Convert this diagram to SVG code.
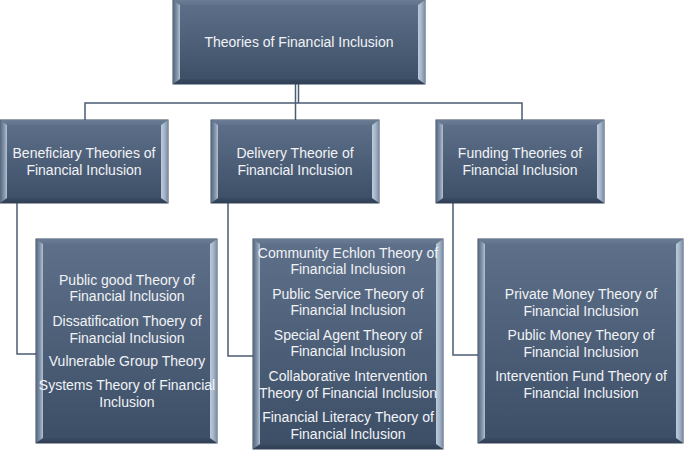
<svg xmlns="http://www.w3.org/2000/svg" width="685" height="450" viewBox="0 0 685 450">
<defs>
<linearGradient id="fillG" x1="0" y1="0" x2="0" y2="1">
<stop offset="0" stop-color="#5f718a"/>
<stop offset="1" stop-color="#3c4e66"/>
</linearGradient>
<linearGradient id="leftG" x1="0" y1="0" x2="1" y2="0">
<stop offset="0" stop-color="#55677e"/>
<stop offset="0.6" stop-color="#8596ab"/>
<stop offset="1" stop-color="#b3c2d3"/>
</linearGradient>
<linearGradient id="rightG" x1="0" y1="0" x2="1" y2="0">
<stop offset="0" stop-color="#bccbdc"/>
<stop offset="0.5" stop-color="#a4b5c8"/>
<stop offset="1" stop-color="#7a8ca3"/>
</linearGradient>
<linearGradient id="topG" x1="0" y1="0" x2="0" y2="1">
<stop offset="0" stop-color="#6b7d95"/>
<stop offset="1" stop-color="#61738c"/>
</linearGradient>
<linearGradient id="botG" x1="0" y1="0" x2="0" y2="1">
<stop offset="0" stop-color="#3a4b62"/>
<stop offset="1" stop-color="#2f3f54"/>
</linearGradient>
</defs>
<style>
.box{fill:url(#fillG);stroke:#34455a;stroke-width:1}
.bl{fill:url(#leftG)}
.br{fill:url(#rightG)}
.bt{fill:url(#topG)}
.bb{fill:url(#botG)}
.conn path{fill:none;stroke:#4a5c73;stroke-width:1.5}
text{font-family:"Liberation Sans",Arial,sans-serif;font-size:14px;fill:#f1f3f6;text-anchor:middle}
</style>
<g id="connectors" class="conn">
<path d="M85,120 V103 H522 V120"/>
<path d="M298.5,84 V103"/>
<path d="M295.5,84 V120"/>
<path d="M17,203 V354 H36"/>
<path d="M228,203 V356 H253"/>
<path d="M453,203 V355 H478"/>
</g>
<g id="root">
<rect class="box" x="173" y="0" width="252" height="84"/>
<polygon class="bt" points="173,0 425,0 418,5 180,5"/>
<polygon class="bb" points="173,84 425,84 418,79 180,79"/>
<polygon class="bl" points="173,0 180,5 180,79 173,84"/>
<polygon class="br" points="418,5 425,0 425,84 418,79"/>
<text x="299" y="47">Theories of Financial Inclusion</text>
</g>
<g id="beneficiary">
<rect class="box" x="0" y="120" width="168" height="83"/>
<polygon class="bt" points="0,120 168,120 161,125 7,125"/>
<polygon class="bb" points="0,203 168,203 161,198 7,198"/>
<polygon class="bl" points="0,120 7,125 7,198 0,203"/>
<polygon class="br" points="161,125 168,120 168,203 161,198"/>
<text x="84" y="158">Beneficiary Theories of</text>
<text x="84" y="175">Financial Inclusion</text>
</g>
<g id="delivery">
<rect class="box" x="211" y="120" width="168" height="83"/>
<polygon class="bt" points="211,120 379,120 372,125 218,125"/>
<polygon class="bb" points="211,203 379,203 372,198 218,198"/>
<polygon class="bl" points="211,120 218,125 218,198 211,203"/>
<polygon class="br" points="372,125 379,120 379,203 372,198"/>
<text x="295" y="158">Delivery Theorie of</text>
<text x="295" y="175">Financial Inclusion</text>
</g>
<g id="funding">
<rect class="box" x="436" y="120" width="168" height="83"/>
<polygon class="bt" points="436,120 604,120 597,125 443,125"/>
<polygon class="bb" points="436,203 604,203 597,198 443,198"/>
<polygon class="bl" points="436,120 443,125 443,198 436,203"/>
<polygon class="br" points="597,125 604,120 604,203 597,198"/>
<text x="520" y="158">Funding Theories of</text>
<text x="520" y="175">Financial Inclusion</text>
</g>
<g id="beneficiary-list">
<rect class="box" x="36" y="239" width="181" height="204"/>
<polygon class="bt" points="36,239 217,239 210,244 43,244"/>
<polygon class="bb" points="36,443 217,443 210,438 43,438"/>
<polygon class="bl" points="36,239 43,244 43,438 36,443"/>
<polygon class="br" points="210,244 217,239 217,443 210,438"/>
<text x="127" y="285">Public good Theory of</text>
<text x="127" y="301">Financial Inclusion</text>
<text x="127" y="326">Dissatification Thoery of</text>
<text x="127" y="343">Financial Inclusion</text>
<text x="127" y="366">Vulnerable Group Theory</text>
<text x="127" y="390">Systems Theory of Financial</text>
<text x="127" y="407">Inclusion</text>
</g>
<g id="delivery-list">
<rect class="box" x="253" y="239" width="190" height="210"/>
<polygon class="bt" points="253,239 443,239 436,244 260,244"/>
<polygon class="bb" points="253,449 443,449 436,444 260,444"/>
<polygon class="bl" points="253,239 260,244 260,444 253,449"/>
<polygon class="br" points="436,244 443,239 443,449 436,444"/>
<text x="348" y="258">Community Echlon Theory of</text>
<text x="348" y="274">Financial Inclusion</text>
<text x="348" y="299">Public Service Theory of</text>
<text x="348" y="315">Financial Inclusion</text>
<text x="348" y="340">Special Agent Theory of</text>
<text x="348" y="356">Financial Inclusion</text>
<text x="348" y="381">Collaborative Intervention</text>
<text x="348" y="398">Theory of Financial Inclusion</text>
<text x="348" y="422">Financial Literacy Theory of</text>
<text x="348" y="439">Financial Inclusion</text>
</g>
<g id="funding-list">
<rect class="box" x="478" y="239" width="205" height="204"/>
<polygon class="bt" points="478,239 683,239 676,244 485,244"/>
<polygon class="bb" points="478,443 683,443 676,438 485,438"/>
<polygon class="bl" points="478,239 485,244 485,438 478,443"/>
<polygon class="br" points="676,244 683,239 683,443 676,438"/>
<text x="581" y="299">Private Money Theory of</text>
<text x="581" y="316">Financial Inclusion</text>
<text x="581" y="340">Public Money Theory of</text>
<text x="581" y="357">Financial Inclusion</text>
<text x="581" y="381">Intervention Fund Theory of</text>
<text x="581" y="398">Financial Inclusion</text>
</g>
</svg>
